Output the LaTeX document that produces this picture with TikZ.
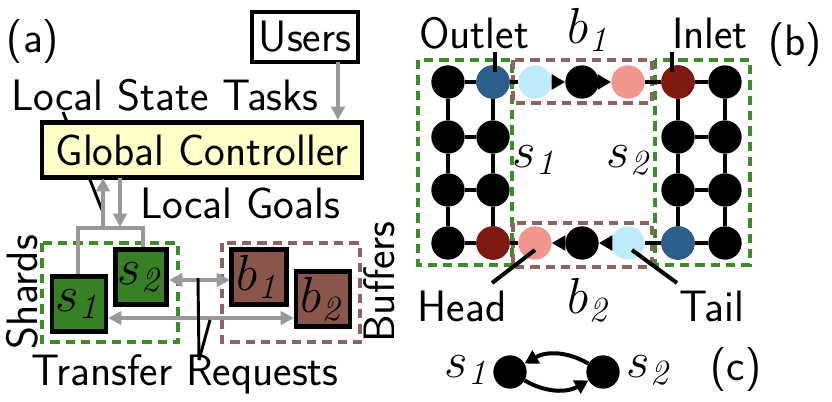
\RequirePackage{fix-cm}
\documentclass[tikz,border=0pt]{standalone}
\usetikzlibrary{arrows.meta}
\definecolor{gfill}{RGB}{56,128,38}
\definecolor{bfill}{RGB}{138,86,76}
\definecolor{gdash}{RGB}{60,140,40}
\definecolor{bdash}{RGB}{140,100,95}
\definecolor{ylw}{RGB}{255,255,200}
\definecolor{dblue}{RGB}{44,95,140}
\definecolor{dred}{RGB}{128,26,16}
\definecolor{lblue}{RGB}{190,235,250}
\definecolor{salmon}{RGB}{240,150,140}
\begin{document}
\begin{tikzpicture}[x=0.75pt,y=-0.75pt,
  every node/.style={font=\fontsize{33}{34}\selectfont\sffamily},
  mth/.style={font=\fontsize{38}{40}\selectfont},
  txt/.style={inner sep=0pt},
  box/.style={draw,line width=3.5pt,inner sep=0pt},
  gx/.style={draw=gray!80,line width=3pt},
  garr/.style={gx,-{Triangle[length=10pt,width=10pt]}},
  gbarr/.style={gx,{Triangle[length=10pt,width=10pt]}-{Triangle[length=10pt,width=10pt]}},
  dsh/.style={line width=3pt,dash pattern=on 7pt off 4.5pt},
  dot/.style={circle,fill=black,inner sep=0pt,minimum size=25pt},
  ed/.style={line width=3pt},
  ea/.style={line width=3pt,-{Triangle[length=10pt,width=11pt]}}]
\useasboundingbox (0,0) rectangle (832,401);
% ---------- (a)
\node[txt] (la) at (33,42) {(a)};
\node[box,minimum width=106*0.75pt,minimum height=50*0.75pt] (users) at (305,37) {Users};
\draw[black,line width=2.2pt] (63,112) -- (102,210);
\node[box,fill=ylw,minimum width=320*0.75pt,minimum height=55*0.75pt] (gc) at (202,150) {Global Controller};
\node[txt] (lst) at (165,95) {Local State Tasks};
\coordinate (ua) at (338,62); \coordinate (ub) at (338,120);
\draw[garr] (ua) -- (ub);
\node[txt] (lg) at (240,203) {Local Goals};
\draw[dsh,draw=gdash] (42,243) rectangle (178,342);
\draw[dsh,draw=bdash] (222,243) rectangle (360,342);
\node[box,mth,fill=gfill,minimum width=54*0.75pt,minimum height=55*0.75pt] (s1) at (79,304) {$s_{\mathit 1}$};
\node[box,mth,fill=gfill,minimum width=51*0.75pt,minimum height=55*0.75pt] (s2) at (141,277) {$s_{\mathit 2}$};
\node[box,mth,fill=bfill,minimum width=55*0.75pt,minimum height=55*0.75pt] (b1) at (259,277) {$b_{\mathit 1}$};
\node[box,mth,fill=bfill,minimum width=54*0.75pt,minimum height=55*0.75pt] (b2) at (323,299) {$b_{\mathit 2}$};
\coordinate (j1) at (78,228); \coordinate (j2) at (143,228);
\draw[gx] (s1.north -| j1) -- (j1) -- (j2) -- (s2.north -| j2);
\draw[garr] (103,228) -- (103,178);
\draw[garr] (120,178) -- (120,227);
\draw[gbarr] (169,280) -- (230,280);
\draw[gbarr] (108,318) -- (294,318);
\node[txt,rotate=90] (sh) at (22,292) {Shards};
\node[txt,rotate=90] (bu) at (379,282) {Buffers};
\node[txt] (tr) at (185,374) {Transfer Requests};
\draw[line width=2.2pt] (199,360) -- (198,278);
\draw[line width=2.2pt] (199,360) -- (210,320);
% ---------- (b)
\draw[dsh,draw=gdash] (418,60) rectangle (512,265);
\draw[dsh,draw=gdash] (655,60) rectangle (750,265);
\draw[dsh,draw=bdash] (513,60) rectangle (652,103);
\draw[dsh,draw=bdash] (513,223) rectangle (652,267);
\foreach \c/\x in {a/448,b/493,c/678,d/725}{
  \foreach \r/\y in {1/82,2/137,3/190,4/243}{
    \node[dot] (n\c\r) at (\x,\y) {};
  }}
\node[dot,fill=dblue] (nb1) at (493,82) {};
\node[dot,fill=dred] (nb4) at (493,243) {};
\node[dot,fill=dred] (nc1) at (678,82) {};
\node[dot,fill=dblue] (nc4) at (678,243) {};
\node[dot,fill=lblue] (t1) at (535,82) {};
\node[dot] (t2) at (582,82) {};
\node[dot,fill=salmon] (t3) at (628,82) {};
\node[dot,fill=salmon] (u1) at (535,243) {};
\node[dot] (u2) at (582,243) {};
\node[dot,fill=lblue] (u3) at (628,243) {};
\foreach \c in {a,b,c,d}{\draw[ed] (n\c1)--(n\c2)--(n\c3)--(n\c4);}
\foreach \r in {1,2,3,4}{\draw[ed] (na\r)--(nb\r); \draw[ed] (nc\r)--(nd\r);}
\draw[ed] (nb1)--(t1); \draw[ed] (t3)--(nc1);
\draw[ed] (nb4)--(u1); \draw[ed] (u3)--(nc4);
\draw[ea] (t1)--(t2); \draw[ea] (t2)--(t3);
\draw[ea] (u3)--(u2); \draw[ea] (u2)--(u1);
\node[txt] (out) at (474,33) {Outlet};
\node[txt] (inl) at (710,33) {Inlet};
\node[txt,mth] (bb1) at (590,30) {$b_{\mathit 1}$};
\node[txt] (lb) at (795,45) {(b)};
\node[txt,mth] (ss1) at (536,160) {$s_{\mathit 1}$};
\node[txt,mth] (ss2) at (630,160) {$s_{\mathit 2}$};
\node[txt] (hd) at (462,306) {Head};
\node[txt,mth] (bb2) at (590,300) {$b_{\mathit 2}$};
\node[txt] (tl) at (712,306) {Tail};
\draw[ed] (495,52) -- (495,72);
\draw[ed] (672,52) -- (672,72);
\draw[ed] (535,250) -- (492,283);
\draw[ed] (632,250) -- (677,283);
% ---------- (c)
\node[dot] (c1) at (510,372) {};
\node[dot] (c2) at (603,372) {};
\node[txt,mth] (cs1) at (468,370) {$s_{\mathit 1}$};
\node[txt,mth] (cs2) at (650,370) {$s_{\mathit 2}$};
\node[txt] (lc) at (736,370) {(c)};
\draw[ea] (c2) to[bend right=30] (c1);
\draw[ea] (c1) to[bend right=30] (c2);
\end{tikzpicture}
\end{document}
